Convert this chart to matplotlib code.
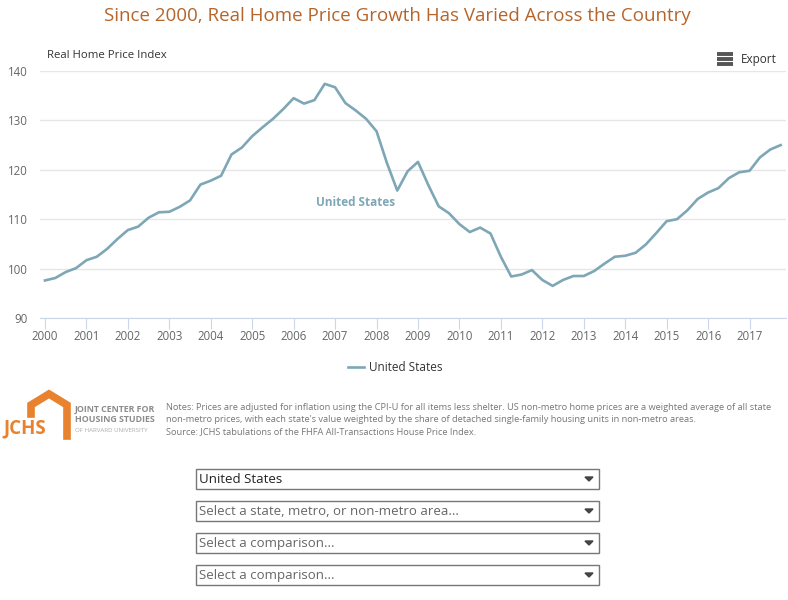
import numpy as np
import matplotlib
matplotlib.use("Agg")
import matplotlib.pyplot as plt
from matplotlib.patches import Rectangle, Polygon

plt.rcParams['font.family'] = ['Open Sans', 'DejaVu Sans']

# quarterly real home price index, 2000 Q1 .. 2017 Q4
start_year = 2000
us_index = [
    97.6, 98.1, 99.3, 100.1, 101.7, 102.4, 104.0, 106.0,
    107.8, 108.5, 110.3, 111.4, 111.5, 112.5, 113.8, 117.0,
    117.8, 118.8, 123.1, 124.5, 126.8, 128.6, 130.3, 132.3,
    134.5, 133.4, 134.1, 137.4, 136.7, 133.5, 132.0, 130.3,
    127.8, 121.4, 115.8, 119.7, 121.6, 116.9, 112.6, 111.2,
    109.0, 107.4, 108.3, 107.1, 102.4, 98.4, 98.8, 99.7,
    97.7, 96.5, 97.7, 98.5, 98.5, 99.5, 101.0, 102.4,
    102.6, 103.2, 104.9, 107.2, 109.6, 110.0, 111.8, 114.1,
    115.4, 116.3, 118.3, 119.5, 119.8, 122.5, 124.1, 125.0,
]
years = list(range(2000, 2018))
y_ticks = [90, 100, 110, 120, 130, 140]
series_name = "United States"

title = "Since 2000, Real Home Price Growth Has Varied Across the Country"
y_title = "Real Home Price Index"
notes = [
    "Notes: Prices are adjusted for inflation using the CPI-U for all items less shelter. US non-metro home prices are a weighted average of all state",
    "non-metro prices, with each state's value weighted by the share of detached single-family housing units in non-metro areas.",
    "Source: JCHS tabulations of the FHFA All-Transactions House Price Index.",
]
dropdowns = ["United States", "Select a state, metro, or non-metro area...",
             "Select a comparison...", "Select a comparison..."]

line_color = "#7ea7b6"
orange = "#e8822e"
W, H = 788, 600

x = start_year + np.arange(len(us_index)) / 4.0

fig = plt.figure(figsize=(W / 100, H / 100), dpi=100)
ax = fig.add_axes([40 / W, 1 - 318 / H, 746 / W, 247 / H])
ax.plot(x, us_index, color=line_color, lw=1.9, solid_joinstyle='round')
ax.set_xlim(1999.88, 2017.88)
ax.set_ylim(90, 140)
ax.set_yticks(y_ticks)
ax.set_xticks(years)
ax.grid(axis='y', color='#e6e6e6', lw=1)
ax.set_axisbelow(True)
for s in ['top', 'right', 'left']:
    ax.spines[s].set_visible(False)
ax.spines['bottom'].set_color('#ccd6eb')
ax.tick_params(axis='y', length=0, labelsize=8.3, labelcolor='#666666', pad=9)
ax.tick_params(axis='x', length=8, color='#ccd6eb', labelsize=8.3,
               labelcolor='#666666', pad=1)
ax.text(2007.5, 113.4, series_name, color=line_color, fontsize=8.5,
        fontweight='bold', ha='center', va='center')

# overlay in pixel coordinates for the page furniture
ov = fig.add_axes([0, 0, 1, 1], zorder=-1)
ov.set_xlim(0, W)
ov.set_ylim(H, 0)
ov.axis('off')

ov.text(397, 16, title, color="#b5652b", fontsize=13.5, ha='center', va='center')
ov.text(47, 56, y_title, color="#333333", fontsize=8.2, ha='left', va='center')
for dy in (-5, 0, 5):
    ov.plot([717, 733], [59 + dy, 59 + dy], color='#555555', lw=2.8,
            solid_capstyle='butt')
ov.text(741, 59.5, "Export", color="#333333", fontsize=8.5, ha='left', va='center')

# legend
ov.plot([348, 364], [367, 367], color=line_color, lw=1.9)
ov.text(369, 367.5, series_name, color="#333333", fontsize=8.5, ha='left', va='center')

# logo
house = [(31, 414), (31, 405), (49, 394), (67, 405), (67, 436)]
ov.plot(*zip(*house), color=orange, lw=5.5, solid_joinstyle='miter')
ov.text(3, 428, "JCHS", color=orange, fontsize=13.5, fontweight='bold',
        ha='left', va='center')
ov.text(75, 409, "JOINT CENTER FOR", color='#8c8c8c', fontsize=6.4,
        fontweight='bold', ha='left', va='center')
ov.text(75, 420, "HOUSING STUDIES", color='#8c8c8c', fontsize=6.4,
        fontweight='bold', ha='left', va='center')
ov.text(75, 430, "OF HARVARD UNIVERSITY", color='#aaaaaa', fontsize=4.4,
        ha='left', va='center')
for i, line in enumerate(notes):
    ov.text(166, 407 + i * 12.3, line, color='#777777', fontsize=6.7,
            ha='left', va='center')

# dropdowns
for i, label in enumerate(dropdowns):
    top = 469 + i * 32
    ov.add_patch(Rectangle((196, top), 403, 20, fill=False,
                           edgecolor='#777777', lw=1))
    ov.text(199, top + 10.5, label, fontsize=9.5, ha='left', va='center',
            color='#222222' if i == 0 else '#666666')
    ov.add_patch(Polygon([(585, top + 8), (593, top + 8), (589, top + 12)],
                         closed=True, color='#444444'))

fig.savefig("out.png", dpi=100)
